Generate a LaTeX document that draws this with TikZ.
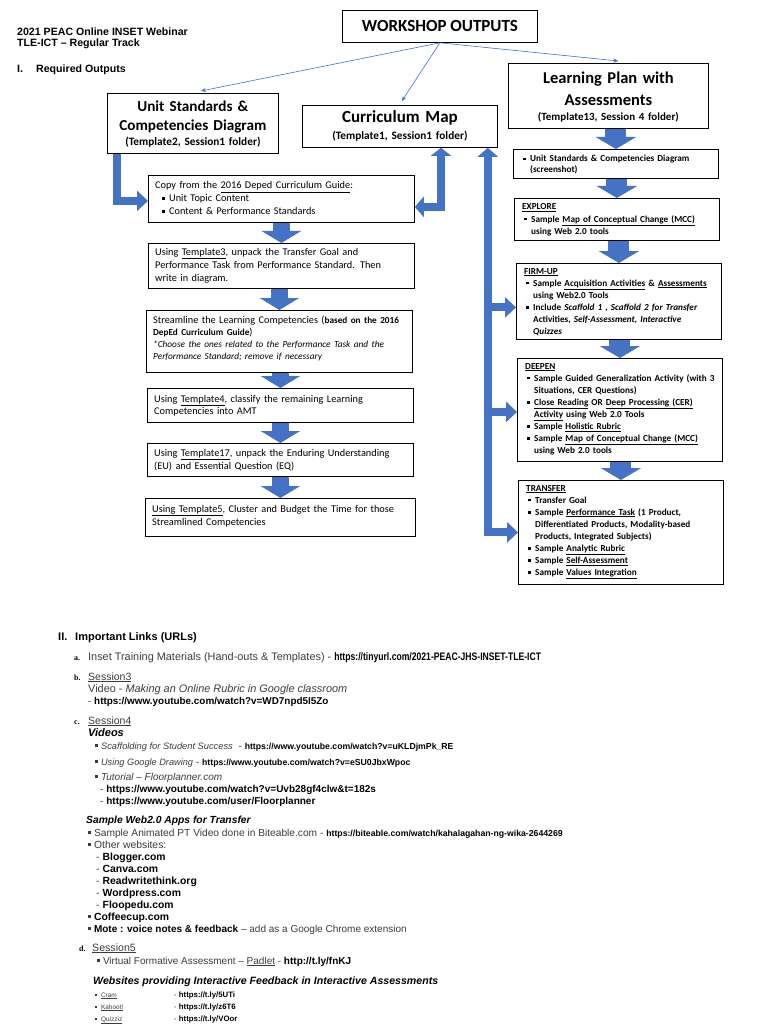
\documentclass[tikz,border=0pt]{standalone}
\usepackage{fontspec}
\setmainfont{Carlito}
\newfontfamily\arialfont{Liberation Sans}
\newfontfamily\narrowfont[FakeStretch=0.79]{Liberation Sans}
\newfontfamily\seriffont{Liberation Serif}
\usetikzlibrary{arrows.meta,positioning}
\definecolor{offblue}{RGB}{68,114,196}
\definecolor{txtgray}{RGB}{60,60,60}
\newcommand\sqb{\rule[0.18em]{0.28em}{0.28em}}
\newcommand\bl[1][2pt]{\hspace*{#1}\makebox[7pt][l]{\sqb}}
\newcommand\cl[1][9pt]{\hspace*{#1}}
\newcommand\lnk[1]{\textbf{\color{black}#1}}
\newcommand\fs[1]{\fontsize{#1}{12}\selectfont}

\tikzset{
  box/.style 2 args={draw, line width=0.8pt, minimum width=#1, minimum height=#2, inner sep=0pt, anchor=north west},
  ttl/.style={anchor=base, inner sep=0pt, text width=190, align=center},
  subttl/.style={ttl, font=\fontsize{11.3}{13}\selectfont\bfseries},
  ltxt/.style={anchor=base west, inner sep=0pt, text width=300, align=left, font=\fontsize{10.3}{13}\selectfont},
  rtxt/.style={anchor=base west, inner sep=0pt, text width=220, align=left, font=\fontsize{9.2}{12.1}\selectfont\bfseries},
  doc/.style={anchor=base west, inner sep=0pt, text=txtgray, font=\arialfont\fontsize{10.2}{12}\selectfont},
  hd/.style={doc, text=black, font=\arialfont\bfseries\fontsize{11}{12}\selectfont},
  lbl/.style={doc, text=black, font=\seriffont\bfseries\fontsize{8}{9}\selectfont},
  thinarr/.style={draw=offblue, line width=0.6pt, -{Stealth[length=5pt,width=4pt]}},
  downL/.style={draw=offblue, line width=17pt, -{Triangle[width=39pt,length=12pt]}},
  downR/.style={draw=offblue, line width=21pt, -{Triangle[width=40pt,length=12pt]}},
  elbow/.style={draw=offblue, line width=8pt}
}

\begin{document}
\begin{tikzpicture}[x=1pt, y=-1pt]
\useasboundingbox (0,0) rectangle (768,1024);

\node[hd, font=\arialfont\bfseries\fontsize{10.6}{12}\selectfont] (hdA) at (17,36) {2021 PEAC Online INSET Webinar};
\node[hd, font=\arialfont\bfseries\fontsize{10.6}{12}\selectfont] (hdB) at (17,47) {TLE-ICT – Regular Track};
\node[hd, font=\arialfont\bfseries\fontsize{10.6}{12}\selectfont] (hdC) at (17,73) {I.};
\node[hd, font=\arialfont\bfseries\fontsize{10.6}{12}\selectfont] (hdD) at (36,73) {Required Outputs};

\node[box={195}{32}, font=\fontsize{17}{20}\selectfont\bfseries] (ws) at (342,10) {WORKSHOP OUTPUTS};

\node[box={171}{60}] (unit) at (107,93) {};
\node[ttl, font=\fontsize{15.2}{19}\selectfont\bfseries] (unitT) at ([shift={(0,19)}]unit.north) {Unit Standards \&\\Competencies Diagram};
\node[subttl] (unitS) at ([shift={(0,53)}]unit.north) {(Template2, Session1 folder)};

\node[box={195}{42}] (cm) at (302,105) {};
\node[ttl, font=\fontsize{17}{20}\selectfont\bfseries] (cmT) at ([shift={(0,18)}]cm.north) {Curriculum Map};
\node[subttl] (cmS) at ([shift={(0,35)}]cm.north) {(Template1, Session1 folder)};

\node[box={200}{65}] (lp) at (508,63) {};
\node[ttl, font=\fontsize{16.5}{22}\selectfont\bfseries] (lpT) at ([shift={(0,21)}]lp.north) {Learning Plan with\\Assessments};
\node[subttl, font=\fontsize{11}{13}\selectfont\bfseries] (lpS) at ([shift={(0,58)}]lp.north) {(Template13, Session 4 folder)};

\draw[thinarr] (ws.south) -- ([shift={(8,-2)}]unit.north);
\draw[thinarr] (ws.south) -- ([shift={(2,-4)}]cm.north);
\draw[thinarr] (ws.south) -- ([shift={(10,-2)}]lp.north);

\node[box={266}{47}] (copy) at (148,175) {};
\node[ltxt] (copyT) at ([shift={(7,14)}]copy.north west) {Copy from the \underline{2016 Deped Curriculum Guide}:\\\bl[7pt]Unit Topic Content\\\bl[7pt]Content \& Performance Standards};

\node[box={266}{45}] (t3) at (148,243) {};
\node[ltxt] (t3T) at ([shift={(7,12)}]t3.north west) {Using \underline{Template3}, unpack the Transfer Goal and\\Performance Task from Performance Standard. Then\\write in diagram.};

\node[box={266}{62}] (stream) at (146,310) {};
\node[ltxt, font=\fontsize{10.3}{12}\selectfont] (streamT) at ([shift={(7,13)}]stream.north west) {Streamline the Learning Competencies ({\fontsize{9.2}{12}\selectfont\bfseries based on the 2016}\\{\fontsize{9.2}{12}\selectfont\bfseries DepEd Curriculum Guide})\\{\fontsize{9.3}{12}\selectfont\itshape *Choose the ones related to the Performance Task and the}\\{\fontsize{9.3}{12}\selectfont\itshape Performance Standard; remove if necessary}};

\node[box={266}{34}] (t4) at (147,388) {};
\node[ltxt, font=\fontsize{10.3}{12}\selectfont] (t4T) at ([shift={(7,14)}]t4.north west) {Using \underline{Template4}, classify the remaining Learning\\Competencies into AMT};

\node[box={266}{33}] (t17) at (147,443) {};
\node[ltxt] (t17T) at ([shift={(7,13)}]t17.north west) {Using \underline{Template17}, unpack the Enduring Understanding\\(EU) and Essential Question (EQ)};

\node[box={270}{38}] (t5) at (145,498) {};
\node[ltxt] (t5T) at ([shift={(7,14)}]t5.north west) {\underline{Using Template5}, Cluster and Budget the Time for those\\Streamlined Competencies};

\node[box={205}{29}] (rb1) at (513,149) {};
\node[rtxt, font=\fontsize{9.2}{11}\selectfont\bfseries] (rb1T) at ([shift={(8,13)}]rb1.north west) {\bl Unit Standards \& Competencies Diagram\\\cl(screenshot)};

\node[box={205}{42}] (explore) at (514,198) {};
\node[rtxt] (exploreT) at ([shift={(8,12)}]explore.north west) {\underline{EXPLORE}\\\bl Sample \underline{Map of Conceptual Change (MCC)}\\\cl using Web 2.0 tools};

\node[box={205}{76}] (firm) at (516,263) {};
\node[rtxt] (firmT) at ([shift={(8,11)}]firm.north west) {\underline{FIRM-UP}\\\bl Sample \underline{Acquisition Activities} \& \underline{Assessments}\\\cl using Web2.0 Tools\\\bl Include \textit{Scaffold 1 , Scaffold 2 for Transfer}\\\cl Activities, \textit{Self-Assessment, Interactive}\\\cl\textit{Quizzes}};

\node[box={205}{103}] (deepen) at (517,358) {};
\node[rtxt] (deepenT) at ([shift={(8,11)}]deepen.north west) {\underline{DEEPEN}\\\bl Sample Guided Generalization Activity (with 3\\\cl Situations, CER Questions)\\\bl\underline{Close Reading} OR \underline{Deep Processing (CER)}\\\cl\underline{Activity} using Web 2.0 Tools\\\bl Sample \underline{Holistic Rubric}\\\bl Sample \underline{Map of Conceptual Change (MCC)}\\\cl using Web 2.0 tools};

\node[box={205}{104}] (transfer) at (518,480) {};
\node[rtxt] (transferT) at ([shift={(8,11)}]transfer.north west) {\underline{TRANSFER}\\\bl Transfer Goal\\\bl Sample \underline{Performance Task} (1 Product,\\\cl Differentiated Products, Modality-based\\\cl Products, Integrated Subjects)\\\bl Sample \underline{Analytic Rubric}\\\bl Sample \underline{Self-Assessment}\\\bl Sample \underline{Values Integration}};

\foreach \a/\b in {copy/t3, t3/stream, stream/t4, t4/t17, t17/t5}
  \draw[downL] (\b.north |- \a.south) -- (\b.north);
\foreach \a/\b in {lp/rb1, rb1/explore, explore/firm, firm/deepen, deepen/transfer}
  \draw[downR] (\b.north |- \a.south) -- (\b.north);

\draw[elbow, -{Triangle[width=20pt,length=11pt]}] ([shift={(10,0)}]unit.south west) |- ([shift={(0,2)}]copy.west);
\coordinate (cmL) at ([shift={(139,0)}]cm.south west);
\draw[elbow, {Triangle[width=20pt,length=9pt]}-{Triangle[width=20pt,length=8pt]}] ([shift={(0,8)}]copy.east) -| (cmL);

\coordinate (spine) at ([shift={(-10,0)}]cm.south east);
\coordinate (firmIn) at ([shift={(0,6)}]firm.west);
\coordinate (deepIn) at ([shift={(0,2)}]deepen.west);
\draw[elbow, {Triangle[width=20pt,length=9pt]}-{Triangle[width=20pt,length=11pt]}] (spine) |- (transfer.west);
\draw[elbow, -{Triangle[width=20pt,length=11pt]}] (spine |- firmIn) -- (firmIn);
\draw[elbow, -{Triangle[width=20pt,length=11pt]}] (spine |- deepIn) -- (deepIn);

\node[hd] (secN) at (58,640) {II.};
\node[hd] (sec) at (75,640) {Important Links (URLs)};

\node[lbl] (la) at (74,660) {a.};
\node[doc, font=\arialfont\fontsize{10.9}{12}\selectfont] (inset) at (88,660) {Inset Training Materials (Hand-outs \& Templates) - {\narrowfont\bfseries\color{black}https://tinyurl.com/2021-PEAC-JHS-INSET-TLE-ICT}};

\node[lbl] (lb) at (74,680) {b.};
\node[doc, font=\arialfont\fs{10.5}] (s3) at (88,680) {\underline{Session3}};
\node[doc, font=\arialfont\fs{10.9}] (s3v) at (88,692) {Video - \textit{Making an Online Rubric in Google classroom}};
\node[doc, font=\arialfont\fs{9.9}] (s3u) at (88,704) {- \lnk{https://www.youtube.com/watch?v=WD7npd5I5Zo}};

\node[lbl] (lc) at (74,724) {c.};
\node[doc, font=\arialfont\fs{10.5}] (s4) at (88,724) {\underline{Session4}};
\node[doc, text=black, font=\arialfont\fs{11}] (s4v) at (88,736) {\textbf{\textit{Videos}}};
\node[doc] (s4a) at (95,749) {\sqb\hspace{3pt}{\fs{9.3}\textit{Scaffolding for Student Success}}\ \ - {\fs{8.7}\lnk{https://www.youtube.com/watch?v=uKLDjmPk\_RE}}};
\node[doc] (s4b) at (95,765) {\sqb\hspace{3pt}{\fs{9.2}\textit{Using Google Drawing}} - {\fs{8.7}\lnk{https://www.youtube.com/watch?v=eSU0JbxWpoc}}};
\node[doc, font=\arialfont\fs{10}] (s4c) at (95,780) {\sqb\hspace{3pt}\textit{Tutorial – Floorplanner.com}};
\node[doc, font=\arialfont\fs{10}] (s4d) at (100,792) {- \lnk{https://www.youtube.com/watch?v=Uvb28gf4clw\&t=182s}};
\node[doc, font=\arialfont\fs{10}] (s4e) at (100,804) {- \lnk{https://www.youtube.com/user/Floorplanner}};

\node[doc, text=black, font=\arialfont\fs{10.3}] (apps) at (86,823) {\textbf{\textit{Sample Web2.0 Apps for Transfer}}};
\node[doc] (appA) at (88,836) {\sqb\hspace{3pt}Sample Animated PT Video done in Biteable.com - {\fs{8.7}\lnk{https://biteable.com/watch/kahalagahan-ng-wika-2644269}}};
\node[doc, font=\arialfont\fs{10.4}] (appB) at (88,848) {\sqb\hspace{3pt}Other websites:};
\foreach \w [count=\i] in {Blogger.com, Canva.com, Readwritethink.org, Wordpress.com, Floopedu.com}
  \node[doc, font=\arialfont\fs{10.4}] (web\i) at (96, 848+12*\i) {-\hspace{3pt}\lnk{\w}};
\node[doc, font=\arialfont\fs{10.4}] (appC) at (88,920) {\sqb\hspace{3pt}\lnk{Coffeecup.com}};
\node[doc, font=\arialfont\fs{10}] (appD) at (88,932) {\sqb\hspace{3pt}\lnk{Mote : voice notes \& feedback} – add as a Google Chrome extension};

\node[lbl] (ld) at (79,951) {d.};
\node[doc, font=\arialfont\fs{10.6}] (s5) at (92,951) {\underline{Session5}};
\node[doc, font=\arialfont\fs{10}] (s5a) at (97,964) {\sqb\hspace{3pt}Virtual Formative Assessment – \underline{Padlet} - \lnk{http://t.ly/fnKJ}};
\node[doc, text=black, font=\arialfont\fs{10.6}] (fb) at (93,984) {\textbf{\textit{Websites providing Interactive Feedback in Interactive Assessments}}};
\foreach \n/\u [count=\i] in {Cram/5UTi, Kahoot!/z6T6, Quizziz/VOor} {
  \node[doc, font=\arialfont\fontsize{6.5}{7}\selectfont] (fbn\i) at (95, 985+12*\i) {\sqb\hspace{4pt}\underline{\n}};
  \node[doc, font=\arialfont\fontsize{7.8}{9}\selectfont] (fbu\i) at (174, 985+12*\i) {- \lnk{https://t.ly/\u}};
}
\end{tikzpicture}
\end{document}
